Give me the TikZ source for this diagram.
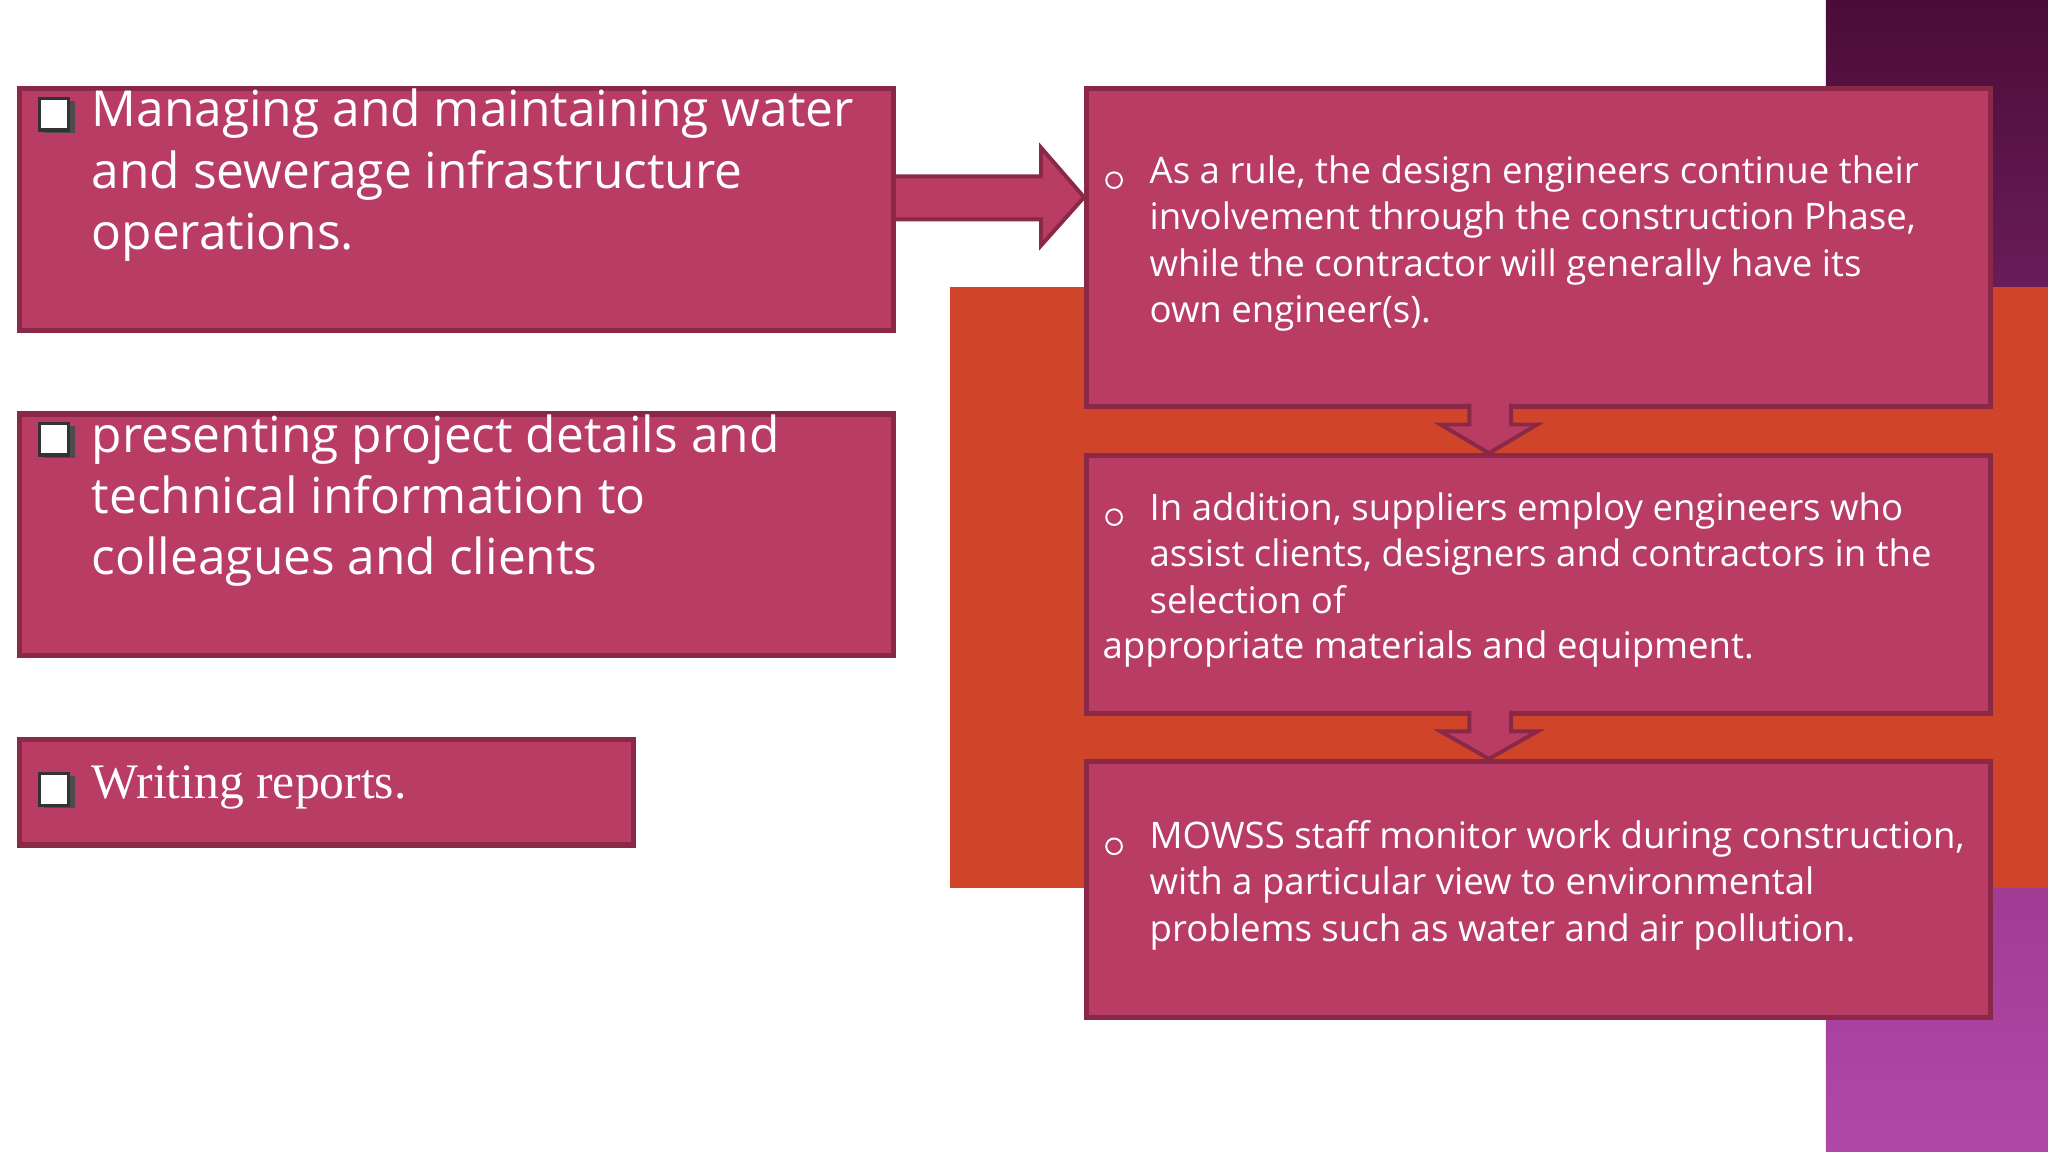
\documentclass[tikz,border=0pt]{standalone}
\usepackage{fontspec}
\setmainfont{Open Sans}
\newfontfamily\serifx{Liberation Serif}
\usetikzlibrary{shadings}
\definecolor{boxf}{HTML}{B93C64}
\definecolor{boxd}{HTML}{8A2848}
\definecolor{orng}{HTML}{D0442A}
\definecolor{dpa}{HTML}{4A0C38}
\definecolor{dpb}{HTML}{6A1C58}
\definecolor{ppa}{HTML}{A03C94}
\definecolor{ppb}{HTML}{B048A8}
\newcommand{\cbx}{\tikz[baseline=0pt,x=1pt,y=1pt]{\fill[black!70](3,-2) rectangle (27,22);\fill[white,draw=black!80,line width=2.5pt](0,0) rectangle (22,24);}}
\newcommand{\obul}{\tikz[baseline=0pt,x=1pt,y=1pt]{\draw[white,line width=1.5pt](6,7) circle (6);}}
\begin{document}
\begin{tikzpicture}[x=1pt,y=-1pt,
 box/.style={fill=boxf,draw=boxd,line width=4pt},
 arr/.style={fill=boxf,draw=boxd,line width=3pt,line join=miter},
 lt/.style={anchor=north west,text=white,font=\fontsize{38}{47}\selectfont,align=left,inner sep=0},
 rt/.style={anchor=north west,text=white,font=\fontsize{28}{35.5}\selectfont,align=left,inner sep=0}]
\useasboundingbox (0,0) rectangle (1568,882);
\fill[white](0,0) rectangle (1568,882);
\shade[top color=dpa,bottom color=dpb] (1398,0) rectangle (1568,220);
\fill[orng](727,220) rectangle (1568,680);
\shade[top color=ppa,bottom color=ppb] (1398,680) rectangle (1568,882);
% boxes
\node[box,minimum width=669,minimum height=185,anchor=north west] (b1) at (13,66) {};
\node[box,minimum width=669,minimum height=185,anchor=north west] (b2) at (13,315) {};
\node[box,minimum width=470,minimum height=81,anchor=north west] (b3) at (13,564) {};
\node[box,minimum width=692,minimum height=243,anchor=north west] (r1) at (830,66) {};
\node[box,minimum width=692,minimum height=197,anchor=north west] (r2) at (830,347) {};
\node[box,minimum width=692,minimum height=196,anchor=north west] (r3) at (830,581) {};
% arrows
\draw[arr] (b1.east|-0,135) -- (797,135) -- (797,113) -- (r1.west|-0,151) -- (797,188) -- (797,168) -- (b1.east|-0,168);
\draw[arr] (1125,309) -- (1125,325) -- (1103,325) -- (1140,347) -- (1177,325) -- (1157,325) -- (1157,309);
\draw[arr] (1125,544) -- (1125,560) -- (1103,560) -- (1140,581) -- (1177,560) -- (1157,560) -- (1157,544);
% text
\node[lt] (c1) at (29,74) {\cbx};
\node[lt] (t1) at (70,68) {Managing and maintaining water\\and sewerage infrastructure\\operations.};
\node[lt] (c2) at (29,323) {\cbx};
\node[lt] (t2) at (70,317) {presenting project details and\\technical information to\\colleagues and clients};
\node[lt] (c3) at (29,591) {\cbx};
\node[lt,font=\serifx\fontsize{38}{47}\selectfont] (t3) at (70,586) {Writing reports.};
\node[rt] (o1) at (846,131) {\obul};
\node[rt] (s1) at (880,119) {As a rule, the design engineers continue their\\involvement through the construction Phase,\\while the contractor will generally have its\\own engineer(s).};
\node[rt] (o2) at (846,389) {\obul};
\node[rt] (s2) at (880,377) {In addition, suppliers employ engineers who\\assist clients, designers and contractors in the\\selection of};
\node[rt] (s2b) at (844,483) {appropriate materials and equipment.};
\node[rt] (o3) at (846,641) {\obul};
\node[rt] (s3) at (880,628) {MOWSS staff monitor work during construction,\\with a particular view to environmental\\problems such as water and air pollution.};
\end{tikzpicture}
\end{document}
